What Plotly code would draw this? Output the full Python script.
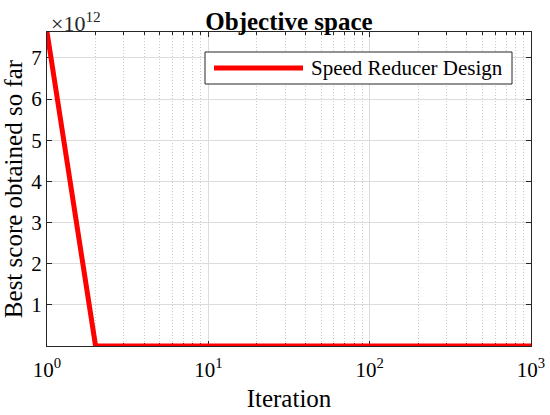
"""
Konvergenzkurve (Objective space) im MATLAB-Stil nachgebaut mit Plotly
"""

import plotly.graph_objects as go

# Daten
iterationen = [1, 2, 1000]
best_score = [7.63e12, 2994.4, 2994.4]
reihen_name = "Speed Reducer Design"

x_tickwerte = [1, 10, 100, 1000]
x_ticktexte = ["10<sup>0</sup>", "10<sup>1</sup>", "10<sup>2</sup>", "10<sup>3</sup>"]
y_tickwerte = [1e12, 2e12, 3e12, 4e12, 5e12, 6e12, 7e12]
y_ticktexte = ["1", "2", "3", "4", "5", "6", "7"]
x_minor = [m * 10 ** e for e in range(3) for m in range(2, 10)]

SCHRIFT = "Liberation Serif, Times New Roman, serif"
ACHSE = "#262626"
GITTER = "#dcdcdc"

BREITE, HOEHE = 550, 415
L, R, T, B = 47, 19, 32, 69
PB, PH = BREITE - L - R, HOEHE - T - B  # Plotbereich in px


def px_x(px):
    return (px - L) / PB


def px_y(py):
    return (HOEHE - B - py) / PH


fig = go.Figure()

fig.add_trace(go.Scatter(
    x=iterationen,
    y=best_score,
    mode="lines",
    name=reihen_name,
    line=dict(color="#ff0000", width=5),
    cliponaxis=False,
    showlegend=False,
))

fig.update_layout(
    width=BREITE,
    height=HOEHE,
    margin=dict(l=L, r=R, t=T, b=B),
    paper_bgcolor="white",
    plot_bgcolor="white",
    font=dict(family=SCHRIFT, size=20, color="black"),
    title=dict(
        text="<b>Objective space</b>",
        x=(L + PB / 2) / BREITE,
        xanchor="center",
        y=1 - 21 / HOEHE,
        yanchor="middle",
        font=dict(size=25, family=SCHRIFT, color="black"),
        automargin=False,
    ),
    xaxis=dict(
        type="log",
        range=[0, 3],
        tickmode="array",
        tickvals=x_tickwerte,
        ticktext=x_ticktexte,
        ticks="inside",
        ticklen=5,
        tickcolor=ACHSE,
        showline=True,
        linecolor=ACHSE,
        linewidth=1,
        mirror="ticks",
        showgrid=True,
        gridcolor=GITTER,
        gridwidth=1,
        zeroline=False,
        automargin=False,
        layer="below traces",
        tickfont=dict(size=21),
        ticklabelstandoff=5,
        minor=dict(
            tickmode="array",
            tickvals=x_minor,
            ticks="inside",
            ticklen=3,
            tickcolor=ACHSE,
            showgrid=True,
            gridcolor="#cccccc",
            griddash="1px,2px",
            gridwidth=1,
        ),
        title=dict(text="Iteration", font=dict(size=25), standoff=8),
    ),
    yaxis=dict(
        range=[0, 7.63e12],
        tickmode="array",
        tickvals=y_tickwerte,
        ticktext=y_ticktexte,
        ticks="inside",
        ticklen=5,
        tickcolor=ACHSE,
        showline=True,
        linecolor=ACHSE,
        linewidth=1,
        mirror="ticks",
        showgrid=True,
        gridcolor=GITTER,
        gridwidth=1,
        zeroline=False,
        automargin=False,
        layer="below traces",
        tickfont=dict(size=21),
        title=dict(text="Best score obtained so far", font=dict(size=25), standoff=13),
    ),
)

# Exponent wie bei MATLAB über der y-Achse
fig.add_annotation(
    text="×10<sup>12</sup>",
    xref="paper", yref="paper",
    x=px_x(49), y=px_y(22),
    xanchor="left", yanchor="middle",
    showarrow=False,
    font=dict(size=22, family=SCHRIFT, color=ACHSE),
)

# Legende im MATLAB-Stil (Kasten, lange Linienprobe)
fig.add_shape(
    type="rect", xref="paper", yref="paper",
    x0=px_x(205), x1=px_x(512),
    y0=px_y(84), y1=px_y(52),
    line=dict(color=ACHSE, width=1), fillcolor="white", layer="above",
)
fig.add_shape(
    type="line", xref="paper", yref="paper",
    x0=px_x(214), x1=px_x(303),
    y0=px_y(68), y1=px_y(68),
    line=dict(color="#ff0000", width=5), layer="above",
)
fig.add_annotation(
    text=reihen_name,
    xref="paper", yref="paper",
    x=px_x(309), y=px_y(68),
    xanchor="left", yanchor="middle",
    showarrow=False,
    font=dict(size=21, family=SCHRIFT, color="black"),
)

# Seitenrand des Browsers entfernen, damit die Figur bei (0, 0) beginnt
fig.write_html(
    "out.html",
    config={"displayModeBar": False},
    post_script="document.body.style.margin='0';",
)
